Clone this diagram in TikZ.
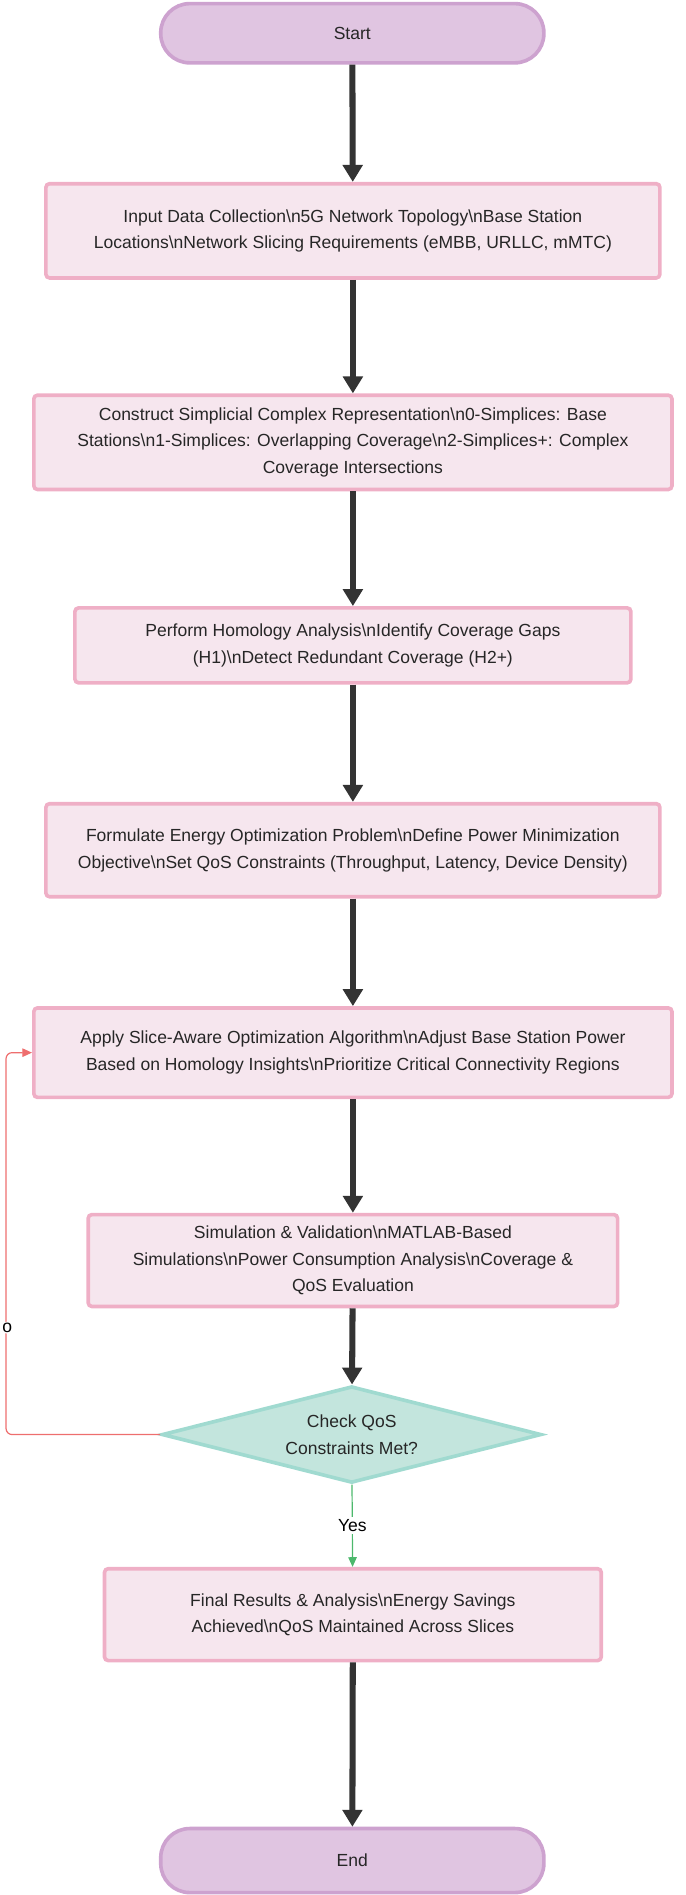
\documentclass[tikz,border=0pt]{standalone}
\usepackage{fontspec}
\setmainfont{Liberation Sans}
\usetikzlibrary{shapes.geometric,arrows.meta}
\definecolor{boxfill}{HTML}{F6E6EE}
\definecolor{boxline}{HTML}{EFAFC6}
\definecolor{termfill}{HTML}{E0C5E1}
\definecolor{termline}{HTML}{CDA2CF}
\definecolor{dfill}{HTML}{C3E5DD}
\definecolor{dline}{HTML}{A0DAD0}
\definecolor{arr}{HTML}{333333}
\definecolor{noline}{HTML}{EE6E6E}
\definecolor{yesline}{HTML}{4CB86C}
\begin{document}
\begin{tikzpicture}[x=1pt,y=-1pt,
 every node/.style={font=\fontsize{14.5}{22}\selectfont,text=black!85},
 box/.style={draw=boxline,fill=boxfill,line width=3pt,rounded corners=3pt,align=center,inner sep=0pt},
 term/.style={draw=termline,fill=termfill,line width=3pt,rounded corners=24pt,inner sep=0pt},
 main/.style={draw=arr,line width=5pt,-{Triangle[length=14pt,width=16pt]}}]
\useasboundingbox (0,0) rectangle (567,1568);
\node[term,minimum width=317pt,minimum height=49pt] (s) at (291.5,27.5) {Start};
\node[box,minimum width=508pt,minimum height=78pt] (b1) at (292,191) {Input Data Collection\textbackslash n5G Network Topology\textbackslash nBase Station\\Locations\textbackslash nNetwork Slicing Requirements (eMBB, URLLC, mMTC)};
\node[box,minimum width=528pt,minimum height=78pt] (b2) at (292,366) {Construct Simplicial Complex Representation\textbackslash n0-Simplices: Base\\Stations\textbackslash n1-Simplices: Overlapping Coverage\textbackslash n2-Simplices+: Complex\\Coverage Intersections};
\node[box,minimum width=460pt,minimum height=62pt] (b3) at (292,534) {Perform Homology Analysis\textbackslash nIdentify Coverage Gaps\\(H1)\textbackslash nDetect Redundant Coverage (H2+)};
\node[box,minimum width=508pt,minimum height=77pt] (b4) at (292,703.5) {Formulate Energy Optimization Problem\textbackslash nDefine Power Minimization\\Objective\textbackslash nSet QoS Constraints (Throughput, Latency, Device Density)};
\node[box,minimum width=528pt,minimum height=74pt] (b5) at (292,871) {Apply Slice-Aware Optimization Algorithm\textbackslash nAdjust Base Station Power\\Based on Homology Insights\textbackslash nPrioritize Critical Connectivity Regions};
\node[box,minimum width=438pt,minimum height=76pt] (b6) at (292,1043) {Simulation \& Validation\textbackslash nMATLAB-Based\\Simulations\textbackslash nPower Consumption Analysis\textbackslash nCoverage \&\\QoS Evaluation};
\node[diamond,aspect=3.9,draw=dline,fill=dfill,line width=3pt,inner sep=0pt,minimum width=314pt,minimum height=80pt,align=center] (d) at (291,1187) {Check QoS\\Constraints Met?};
\node[box,minimum width=411pt,minimum height=76pt] (b7) at (292,1336) {Final Results \& Analysis\textbackslash nEnergy Savings\\Achieved\textbackslash nQoS Maintained Across Slices};
\node[term,minimum width=317pt,minimum height=53pt] (e) at (291.5,1539.5) {End};
\draw[main] (s) -- (b1);
\draw[main] (b1) -- (b2);
\draw[main] (b2) -- (b3);
\draw[main] (b3) -- (b4);
\draw[main] (b4) -- (b5);
\draw[main] (b5) -- (b6);
\draw[main] (b6) -- (d);
\draw[main] (b7) -- (e);
\draw[draw=yesline,line width=1pt,-{Triangle[length=8pt,width=7pt]}] (d) -- node[fill=white,inner sep=2pt,text=black] (yes) {Yes} (b7);
\coordinate (c1) at (5,1187);
\coordinate (c2) at (5,871);
\draw[draw=noline,line width=1pt,rounded corners=5pt,-{Triangle[length=8pt,width=7pt]}] (d.west) -- (c1) -- node[pos=0.28,fill=white,inner sep=1pt,text=black,xshift=1pt] (no) {o} (c2) -- (b5.west);
\end{tikzpicture}
\end{document}
